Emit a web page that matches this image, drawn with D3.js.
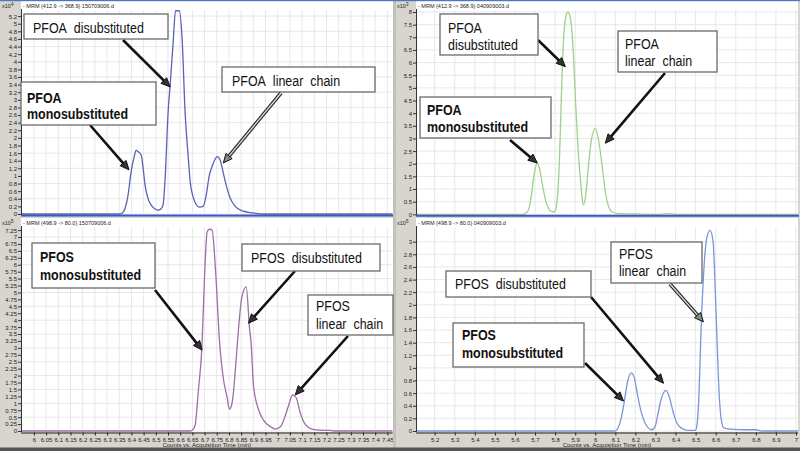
<!DOCTYPE html>
<html><head><meta charset="utf-8">
<script src="https://cdn.jsdelivr.net/npm/d3@7/dist/d3.min.js"></script>
<style>body{margin:0;background:#d6d3cd;} svg{display:block;font-family:Arial,"Liberation Sans",sans-serif;}</style>
</head><body><svg id="c" width="800" height="451"></svg>
<script>
// ---------- DATA ----------
// Top-left: PFOA, MRM (412.9 -> 368.9) 150709006.d, counts x10^4
const tlTime   = [5.947,6.35,6.3615,6.374,6.385,6.3985,6.411,6.419,6.427,6.44,6.448,6.456,6.47,6.485,6.497,6.509,6.522,6.53,6.538,6.551,6.559,6.571,6.581,6.596,6.608,6.62,6.633,6.641,6.653,6.666,6.678,6.694,6.707,6.719,6.731,6.74,6.752,6.764,6.776,6.789,6.805,6.826,6.855,6.896,6.949,7.471];
const tlCounts = [0,0,0.02,0.15,0.45,1.1,1.5,1.67,1.64,1.55,1.2,0.75,0.37,0.2,0.13,0.1,0.14,0.25,0.9,2.74,3.4,4.5,5.34,5.34,4.6,2.7,1.5,0.85,0.45,0.25,0.18,0.2,0.5,1.0,1.25,1.4,1.51,1.42,1.1,0.75,0.42,0.2,0.08,0.03,0,0];
// Top-right: PFOA, MRM (412.9 -> 368.9) 040909003.d, counts x10^3
const trTime   = [5.107,5.64,5.649,5.666,5.681,5.696,5.71,5.721,5.736,5.751,5.766,5.781,5.797,5.806,5.816,5.823,5.829,5.842,5.853,5.864,5.875,5.887,5.904,5.915,5.928,5.935,5.942,5.953,5.967,5.98,6.0,6.015,6.033,6.05,6.065,6.083,6.114,6.224,6.326,6.36,6.40,7.010];
const trCounts = [0,0,0.02,0.15,0.7,1.6,2.02,1.85,1.2,0.6,0.25,0.12,0.1,0.3,1.2,2.5,4.1,6.9,7.8,8.0,7.8,6.9,4.1,2.5,1.2,0.6,0.37,0.8,2.0,2.9,3.4,3.0,2.0,0.9,0.35,0.1,0.03,0.01,0,0.03,0,0];
// Bottom-left: PFOS, MRM (498.9 -> 80.0) 150709006.d, counts x10^5
const blTime   = [5.947,6.64,6.648,6.661,6.675,6.689,6.70,6.711,6.72,6.731,6.745,6.761,6.778,6.792,6.802,6.808,6.815,6.828,6.839,6.853,6.871,6.885,6.89,6.901,6.922,6.941,6.97,6.99,7.011,7.027,7.044,7.061,7.076,7.093,7.113,7.141,7.175,7.216,7.23,7.471];
const blCounts = [0,0,0.02,0.2,1.5,3.0,5.6,7.2,7.28,7.25,5.8,3.28,1.84,1.24,0.79,0.85,1.12,2.4,3.65,4.83,5.2,3.65,3.28,1.6,0.76,0.4,0.16,0.07,0.15,0.45,0.9,1.3,1.2,0.64,0.24,0.07,0.03,0.02,0,0];
// Bottom-right: PFOS, MRM (498.9 -> 80.0) 040909003.d, counts x10^5
const brTime   = [5.107,6.10,6.114,6.129,6.144,6.159,6.179,6.194,6.209,6.229,6.249,6.264,6.282,6.299,6.314,6.328,6.352,6.368,6.388,6.408,6.433,6.463,6.499,6.507,6.517,6.527,6.54,6.555,6.572,6.587,6.597,6.607,6.617,6.627,6.64,6.672,6.76,6.80,6.83,7.010];
const brCounts = [0,0,0.05,0.2,0.45,0.75,0.92,0.85,0.6,0.3,0.12,0.05,0.02,0.08,0.3,0.5,0.645,0.55,0.3,0.12,0.04,0.01,0.01,0.1,0.6,1.6,2.5,3.05,3.18,3.0,2.3,1.4,0.6,0.2,0.05,0.03,0.02,0.02,0,0];

// tick labels
const leftXTicks  = [6,6.05,6.1,6.15,6.2,6.25,6.3,6.35,6.4,6.45,6.5,6.55,6.6,6.65,6.7,6.75,6.8,6.85,6.9,6.95,7,7.05,7.1,7.15,7.2,7.25,7.3,7.35,7.4,7.45];
const rightXTicks = [5.2,5.3,5.4,5.5,5.6,5.7,5.8,5.9,6,6.1,6.2,6.3,6.4,6.5,6.6,6.7,6.8,6.9,7];
const tlYTicks = [0,0.2,0.4,0.6,0.8,1,1.2,1.4,1.6,1.8,2,2.2,2.4,2.6,2.8,3,3.2,3.4,3.6,3.8,4,4.2,4.4,4.6,4.8,5,5.2];
const trYTicks = [0,0.5,1,1.5,2,2.5,3,3.5,4,4.5,5,5.5,6,6.5,7,7.5,8];
const blYTicks = [0,0.25,0.5,0.75,1,1.25,1.5,1.75,2,2.25,2.5,2.75,3,3.25,3.5,3.75,4,4.25,4.5,4.75,5,5.25,5.5,5.75,6,6.25,6.5,6.75,7,7.25];
const brYTicks = [0,0.2,0.4,0.6,0.8,1,1.2,1.4,1.6,1.8,2,2.2,2.4,2.6,2.8,3];

const headers = ["- MRM (412.9 -> 368.9) 150709006.d","- MRM (412.9 -> 368.9) 040909003.d","- MRM (498.9 -> 80.0) 150709006.d","- MRM (498.9 -> 80.0) 040909003.d"];
const exponents = ["4","3","5","5"];
const xTitle = "Counts vs. Acquisition Time (min)";

// annotation labels and the (time, counts) point each arrow points to
const annLabels = [
  ["PFOA\u00a0 disubstituted"], ["PFOA","monosubstituted"], ["PFOA\u00a0 linear\u00a0 chain"],
  ["PFOA","disubstituted"], ["PFOA","linear\u00a0 chain"], ["PFOA","monosubstituted"],
  ["PFOS","monosubstituted"], ["PFOS\u00a0 disubstituted"], ["PFOS","linear\u00a0 chain"],
  ["PFOS","linear\u00a0 chain"], ["PFOS\u00a0 disubstituted"], ["PFOS","monosubstituted"]
];
const annTargetTime   = [6.559,6.390,6.777, 5.851,6.05,5.711, 6.69,6.880,7.072, 6.539,6.34,6.141];
const annTargetCounts = [3.34,1.16,1.34, 5.84,2.81,2.03, 2.92,3.89,1.30, 1.73,0.756,0.475];

// ---------- LAYOUT ----------
const svg = d3.select('#c');
svg.append('rect').attr('width',800).attr('height',451).attr('fill','#d8d5cf');

const panels = [
 {time:tlTime, counts:tlCounts, color:'#5862b6', xd:[5.947,7.471], xr:[21,392.5], yd:[0,5.36], yr:[214,10], yTicks:tlYTicks, gridY:2, xTicks:leftXTicks, bottomAxis:false, area:[21,1,372,214], hy:8},
 {time:trTime, counts:trCounts, color:'#9fd18c', xd:[5.107,7.010], xr:[416,798], yd:[0,8.08], yr:[214.3,10], yTicks:trYTicks, gridY:1, xTicks:rightXTicks, bottomAxis:false, area:[416,1,382,214], hy:8},
 {time:blTime, counts:blCounts, color:'#9a70a6', xd:[5.947,7.471], xr:[21,392.5], yd:[0,7.47], yr:[431,224], yTicks:blYTicks, gridY:2, xTicks:leftXTicks, bottomAxis:true, area:[21,218,372,214], hy:225},
 {time:brTime, counts:brCounts, color:'#7b95d8', xd:[5.107,7.010], xr:[416,798], yd:[0,3.26], yr:[431,225.3], yTicks:brYTicks, gridY:1, xTicks:rightXTicks, bottomAxis:true, area:[416,218,382,214], hy:225}
];

// annotation box layout: [x0,y0,x1,y1], text x, baselines, bold, arrow start, hollow
const annLayout = [
 {p:0, box:[24,14,168,39], tx:33, ty:[32.5], bold:false, from:[123,40], hollow:false},
 {p:0, box:[21,82,156,125], tx:27, ty:[103,119], bold:true, from:[90,125], hollow:false},
 {p:0, box:[222,67,375,92], tx:232, ty:[85.5], bold:false, from:[281,93], hollow:true},
 {p:1, box:[440,14,538,55], tx:448, ty:[33,49.5], bold:false, from:[538,40], hollow:false},
 {p:1, box:[618,31,717,72], tx:625, ty:[49,66], bold:false, from:[665,73], hollow:false},
 {p:1, box:[420,97,551,138], tx:427, ty:[114.5,131.5], bold:true, from:[510,140], hollow:false},
 {p:2, box:[32,243,155,288], tx:40, ty:[262,279.5], bold:true, from:[155,290], hollow:false},
 {p:2, box:[242,244,380,271], tx:251, ty:[262.5], bold:false, from:[295,271], hollow:false},
 {p:2, box:[308,295,393,335], tx:316, ty:[311,328.5], bold:false, from:[348,336], hollow:false},
 {p:3, box:[611,242,702,283], tx:619, ty:[258.5,275.5], bold:false, from:[670,284], hollow:true},
 {p:3, box:[446,271,591,297], tx:455, ty:[289], bold:false, from:[591,297], hollow:false},
 {p:3, box:[453,323,584,367], tx:462, ty:[340,358], bold:true, from:[585,363], hollow:false}
];

const fmt = v => String(+v.toFixed(2));

panels.forEach((P,i) => {
  const g = svg.append('g');
  const x = d3.scaleLinear().domain(P.xd).range(P.xr);
  const y = d3.scaleLinear().domain(P.yd).range(P.yr);
  P.x = x; P.y = y;
  const [ax,ay,aw,ah] = P.area;
  g.append('rect').attr('x',ax).attr('y',ay).attr('width',aw).attr('height',ah).attr('fill','#ffffff');
  // grid
  const plotBot = P.yr[0];
  g.selectAll('.vg').data(P.xTicks).join('line')
    .attr('x1',d=>x(d)).attr('x2',d=>x(d)).attr('y1',ay+9).attr('y2',plotBot)
    .attr('stroke','#e2e2e2').attr('stroke-width',0.8);
  g.selectAll('.hg').data(P.yTicks.filter((d,k)=>k%P.gridY===0)).join('line')
    .attr('x1',P.xr[0]).attr('x2',P.xr[1]).attr('y1',d=>y(d)).attr('y2',d=>y(d))
    .attr('stroke','#e2e2e2').attr('stroke-width',0.8);
  // trace
  const pts = P.time.map((t,k)=>[t,P.counts[k]]);
  g.append('path').datum(pts)
    .attr('d', d3.line().x(d=>x(d[0])).y(d=>y(d[1])).curve(d3.curveMonotoneX))
    .attr('fill','none').attr('stroke',P.color).attr('stroke-width',1.3);
  // y axis
  const yAxis = d3.axisLeft(y).tickValues(P.yTicks).tickFormat(fmt).tickSize(3).tickPadding(1);
  const ya = g.append('g').attr('transform',`translate(${P.xr[0]},0)`).call(yAxis);
  ya.select('.domain').attr('stroke','#333').attr('d',`M0.5,${ay+8}V${plotBot+1}`);
  ya.selectAll('text').attr('font-size',6).attr('fill','#222').attr('font-family','Arial, Liberation Sans, sans-serif');
  ya.selectAll('.tick line').attr('stroke','#333');
  // header
  const hx = g.append('text').attr('x',P.xr[0]-19).attr('y',P.hy).attr('font-size',5.5).attr('fill','#222');
  hx.append('tspan').text('x10');
  hx.append('tspan').attr('dy',-2).attr('font-size',4.5).text(exponents[i]);
  g.append('text').attr('x',P.xr[0]+2).attr('y',P.hy).attr('font-size',5.5).attr('fill','#222').text(headers[i]);
  // x axis
  if (!P.bottomAxis) {
    g.append('line').attr('x1',P.xr[0]).attr('x2',P.xr[1]+1).attr('y1',plotBot+1.5).attr('y2',plotBot+1.5)
      .attr('stroke','#3658c8').attr('stroke-width',2);
  } else {
    const xa = g.append('g').attr('transform',`translate(0,${plotBot+1.5})`)
      .call(d3.axisBottom(x).tickValues(P.xTicks).tickFormat(fmt).tickSize(3).tickPadding(2));
    xa.select('.domain').attr('stroke','#222').attr('d',`M${P.xr[0]},0.5H${P.xr[1]}`);
    xa.selectAll('text').attr('font-size',6).attr('fill','#222').attr('font-family','Arial, Liberation Sans, sans-serif');
    xa.selectAll('.tick line').attr('stroke','#222');
    g.append('text').attr('x',(P.xr[0]+P.xr[1])/2).attr('y',plotBot+15.5).attr('text-anchor','middle')
      .attr('font-size',6).attr('fill','#222').text(xTitle);
  }
});

// divider and bottom frame
svg.append('rect').attr('x',393).attr('y',0).attr('width',3).attr('height',451).attr('fill','#c4c1bb');
svg.append('rect').attr('x',0).attr('y',447.5).attr('width',800).attr('height',3.5).attr('fill','#555');
svg.append('rect').attr('x',0).attr('y',0).attr('width',800).attr('height',1.2).attr('fill','#4a78c0');

// annotations
const ag = svg.append('g');
function arrowHead(g, x1,y1,x2,y2, hollow){
  const ang = Math.atan2(y2-y1,x2-x1), L=9, Wd=4;
  const bx = x2 - L*Math.cos(ang), by = y2 - L*Math.sin(ang);
  const px = -Math.sin(ang)*Wd, py = Math.cos(ang)*Wd;
  g.append('path').attr('d',`M${x2},${y2}L${bx+px},${by+py}L${bx-px},${by-py}Z`)
    .attr('fill', hollow ? '#888' : '#333').attr('stroke','#111').attr('stroke-width',1);
}
annLayout.forEach((A,k) => {
  const P = panels[A.p];
  const tx = P.x(annTargetTime[k]), ty = P.y(annTargetCounts[k]);
  const [fx,fy] = A.from;
  const ang = Math.atan2(ty-fy,tx-fx);
  const ex = tx - 7*Math.cos(ang), ey = ty - 7*Math.sin(ang);
  if (A.hollow) {
    ag.append('line').attr('x1',fx).attr('y1',fy).attr('x2',ex).attr('y2',ey).attr('stroke','#222').attr('stroke-width',3.6);
    ag.append('line').attr('x1',fx).attr('y1',fy).attr('x2',ex).attr('y2',ey).attr('stroke','#ddd').attr('stroke-width',1.4);
  } else {
    ag.append('line').attr('x1',fx).attr('y1',fy).attr('x2',ex).attr('y2',ey).attr('stroke','#111').attr('stroke-width',2.6);
  }
  arrowHead(ag,fx,fy,tx,ty,A.hollow);
  const [x0,y0,x1,y1] = A.box;
  ag.append('rect').attr('x',x0).attr('y',y0).attr('width',x1-x0).attr('height',y1-y0)
    .attr('fill','#fff').attr('stroke','#6a6a6a').attr('stroke-width',1.3);
  annLabels[k].forEach((s,j) => {
    ag.append('text').attr('transform',`translate(${A.tx},${A.ty[j]}) scale(0.86,1)`)
      .attr('font-size',14.5).attr('font-weight',A.bold?'bold':'normal').attr('fill','#111').text(s);
  });
});
</script></body></html>
